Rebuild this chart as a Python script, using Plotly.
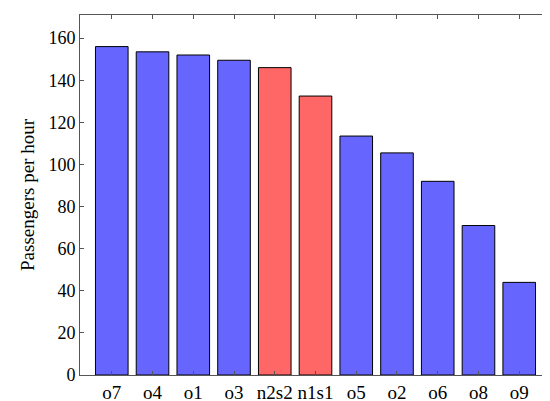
import plotly.graph_objects as go

categories = ["o7", "o4", "o1", "o3", "n2s2", "n1s1", "o5", "o2", "o6", "o8", "o9"]
passengers = [156, 153.5, 152, 149.5, 146, 132.5, 113.5, 105.5, 92, 71, 44]
is_new = [False, False, False, False, True, True, False, False, False, False, False]

colors = ["#ff6666" if n else "#6666ff" for n in is_new]

fig = go.Figure(go.Bar(
    x=categories, y=passengers,
    marker=dict(color=colors, line=dict(color="black", width=1)),
    width=0.8,
))

axis_common = dict(showline=True, linecolor="#555", linewidth=1, mirror="ticks",
                   ticks="inside", ticklen=4, tickcolor="#555")
fig.update_xaxes(**axis_common, range=[-0.78, 10.78], tickfont=dict(size=19))
fig.update_yaxes(**axis_common, range=[0, 171], dtick=20, showgrid=False,
                 tickfont=dict(size=18),
                 title=dict(text="Passengers per hour", font=dict(size=19), standoff=8))

fig.update_layout(
    width=550, height=401,
    margin=dict(l=72, r=7, t=6, b=24, pad=0),
    plot_bgcolor="white", paper_bgcolor="white",
    font=dict(family="Liberation Serif, DejaVu Serif, serif", color="black"),
    showlegend=False,
)

fig.write_html("out.html")
